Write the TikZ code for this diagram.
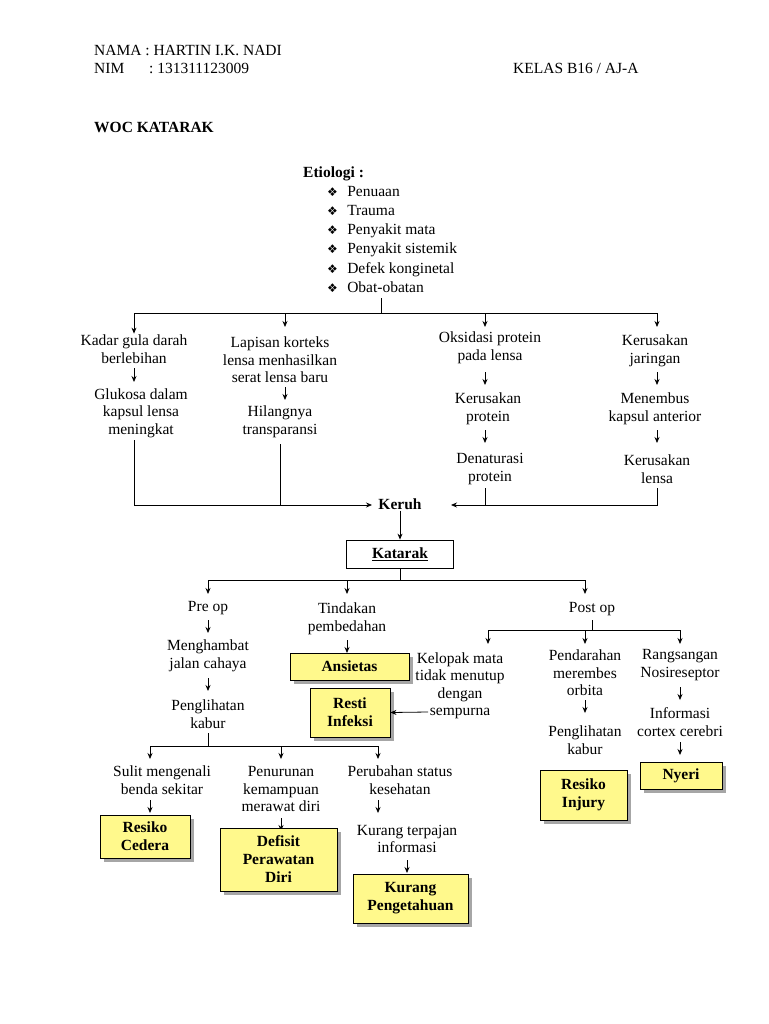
\documentclass[tikz,border=0pt]{standalone}
\usepackage{fontspec}
\setmainfont{Liberation Serif}
\newfontfamily\dejavu{DejaVu Sans}
\usetikzlibrary{arrows.meta}
\begin{document}
\begin{tikzpicture}[x=1pt,y=-1pt,
  every node/.style={font=\fontsize{15.5}{17.5}\selectfont, inner sep=1pt},
  txt/.style={align=center},
  arr/.style={-{Stealth[length=6pt,width=5pt]}, line width=0.8pt},
  ln/.style={line width=0.8pt},
  box/.style={draw, line width=0.8pt, fill=yellow!45, align=center, font=\fontsize{15.5}{18}\selectfont\bfseries,
    minimum width=#1},
  shadowed/.style={}]
\useasboundingbox (0,0) rectangle (768,1024);
\fill[white] (0,0) rectangle (768,1024);
% header
\node[anchor=base west] (nama) at (93,56) {NAMA : HARTIN I.K. NADI};
\node[anchor=base west] (nim) at (93,74) {NIM\hspace{1.6em}: 131311123009};
\node[anchor=base west] (kelas) at (512,74) {KELAS B16 / AJ-A};
\node[anchor=base west,font=\fontsize{15.5}{17.5}\selectfont\bfseries] (woc) at (93,133) {WOC KATARAK};
% etiologi
\node[anchor=base west,font=\fontsize{15.5}{17.5}\selectfont\bfseries] (etio) at (302,178) {Etiologi :};
\foreach \t [count=\i] in {Penuaan,Trauma,Penyakit mata,Penyakit sistemik,Defek konginetal,Obat-obatan}{
  \node[anchor=base west] (b\i) at (326,177+19.2*\i) {{\dejavu\fontsize{12}{14}\selectfont ❖}\hspace{0.6em}\t};
}
\coordinate (e0) at (381,298);
\coordinate (e1) at (381,313);
\draw[ln] (e0) -- (e1);
\draw[ln] (134,313) -- (657,313);
% column 1
\node[txt] (c1a) at (134,349) {Kadar gula darah\\berlebihan};
\node[txt] (c1b) at (141,413) {Glukosa dalam\\kapsul lensa\\meningkat};
\draw[arr] (134,313) -- (c1a.north);
\draw[arr] (134,368) -- (134,382);
% column 2
\node[txt] (c2a) at (280,360) {Lapisan korteks\\lensa menhasilkan\\serat lensa baru};
\node[txt] (c2b) at (280,422) {Hilangnya\\transparansi};
\draw[arr] (285,313) -- (285,327);
\draw[arr] (285,387) -- (285,400);
% column 3
\node[txt] (c3a) at (490,348) {Oksidasi protein\\pada lensa};
\node[txt] (c3b) at (488,409) {Kerusakan\\protein};
\node[txt] (c3c) at (490,469) {Denaturasi\\protein};
\draw[arr] (485,313) -- (485,327);
\draw[arr] (485,372) -- (485,385);
\draw[arr] (485,430) -- (485,443);
% column 4
\node[txt] (c4a) at (655,351) {Kerusakan\\jaringan};
\node[txt] (c4b) at (655,409) {Menembus\\kapsul anterior};
\node[txt] (c4c) at (657,469) {Kerusakan\\lensa};
\draw[arr] (657,313) -- (657,327);
\draw[arr] (657,372) -- (657,385);
\draw[arr] (657,430) -- (657,443);
% keruh
\node[font=\fontsize{15.5}{17.5}\selectfont\bfseries] (keruh) at (400,504) {Keruh};
\draw[ln] (134,440) -- (134,505) -- (300,505);
\draw[arr] (300,505) -- (372,505);
\draw[ln] (280,444) -- (280,505);
\draw[ln] (485,488) -- (485,505);
\draw[ln] (657,488) -- (657,505) -- (520,505);
\draw[arr] (520,505) -- (451,505);
\node[draw, line width=0.8pt, minimum width=107pt, minimum height=28pt, font=\fontsize{15.5}{17.5}\selectfont\bfseries] (katarak) at (400,554) {\underline{Katarak}};
\draw[arr] (keruh.south) -- (katarak.north);
\draw[ln] (katarak.south) -- (400,580);
\draw[ln] (208,580) -- (585,580);
\draw[arr] (208,580) -- (208,594);
\draw[arr] (347,580) -- (347,594);
\draw[arr] (585,580) -- (585,594);
% pre op
\node (preop) at (208,608) {Pre op};
\node[txt] (mengh) at (208,656) {Menghambat\\jalan cahaya};
\node[txt] (kabur1) at (208,714) {Penglihatan\\kabur};
\draw[arr] (208,620) -- (208,633);
\draw[arr] (208,678) -- (208,691);
\draw[ln] (208,733) -- (208,746);
\draw[ln] (150,746) -- (378,746);
\draw[arr] (150,746) -- (150,759);
\draw[arr] (281,746) -- (281,759);
\draw[arr] (378,746) -- (378,759);
\node[txt] (sulit) at (162,780) {Sulit mengenali\\benda sekitar};
\node[txt] (penur) at (281,789) {Penurunan\\kemampuan\\merawat diri};
\node[txt] (perub) at (400,780) {Perubahan status\\kesehatan};
\node[txt] (kurang) at (407,839) {Kurang terpajan\\informasi};
\draw[arr] (150,800) -- (150,813);
\draw[arr] (281,818) -- (281,831);
\draw[arr] (378,800) -- (378,813);
\draw[arr] (407,860) -- (407,873);
% boxes
\newcommand{\ybox}[6]{%
  \fill[gray!70] (#2+4,#3+4) rectangle (#4+4,#5+4);
  \node[draw, line width=0.8pt, fill=yellow!45, align=center, font=\fontsize{15.5}{18}\selectfont\bfseries,
    minimum width=#4-#2, minimum height=#5-#3, inner sep=0pt] (#1) at ({(#2+#4)/2},{(#3+#5)/2}) {#6};}
\ybox{cedera}{100}{815}{190}{858}{Resiko\\Cedera}
\ybox{defisit}{220}{828}{337}{891}{Defisit\\Perawatan\\Diri}
\ybox{peng}{353}{874}{468}{923}{Kurang\\Pengetahuan}
% tindakan
\node[txt] (tind) at (347,619) {Tindakan\\pembedahan};
\draw[arr] (347,640) -- (347,653);
\ybox{ansietas}{290}{653}{409}{680}{Ansietas}
\ybox{resti}{310}{688}{390}{737}{Resti\\Infeksi}
\node[txt] (kelopak) at (460,686) {Kelopak mata\\tidak menutup\\dengan\\sempurna};
\draw[arr] (428,712) -- (resti.east);
% post op
\node (postop) at (592,609) {Post op};
\draw[ln] (592,620) -- (592,630);
\draw[ln] (488,630) -- (680,630);
\draw[arr] (488,630) -- (488,644);
\draw[arr] (585,630) -- (585,644);
\draw[arr] (680,630) -- (680,644);
\node[txt] (pendar) at (585,673) {Pendarahan\\merembes\\orbita};
\node[txt] (kabur2) at (585,740) {Penglihatan\\kabur};
\draw[arr] (585,700) -- (585,713);
\ybox{injury}{540}{770}{627}{820}{Resiko\\Injury}
\node[txt] (rang) at (680,665) {Rangsangan\\Nosireseptor};
\node[txt] (info) at (680,722) {Informasi\\cortex cerebri};
\draw[arr] (680,687) -- (680,700);
\draw[arr] (680,742) -- (680,755);
\ybox{nyeri}{640}{762}{722}{789}{Nyeri}
\end{tikzpicture}
\end{document}
